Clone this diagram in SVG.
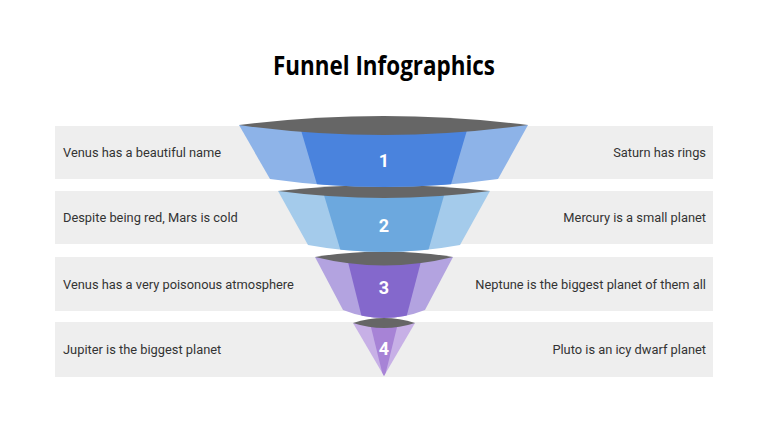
<svg xmlns="http://www.w3.org/2000/svg" width="768" height="432" viewBox="0 0 768 432">
<defs>
<style>
.bar{fill:#eeeeee}
.txt{font-family:Roboto,"Liberation Sans",sans-serif;font-size:12.85px;fill:#333333}
.r{text-anchor:end}
.num{font-family:Roboto,"Liberation Sans",sans-serif;font-size:18px;font-weight:bold;fill:#ffffff;text-anchor:middle}
.lens{fill:#666666}
</style>
<clipPath id="c1"><path d="M239,125 L270,179 Q384,195 498,179 L528,125 Z"/></clipPath>
<clipPath id="c2"><path d="M278,191 L308,245 Q384,259 460,245 L490,191 Z"/></clipPath>
<clipPath id="c3"><path d="M315,257 L343,310 Q384,326 425,310 L453,257 Z"/></clipPath>
<clipPath id="c4"><path d="M353,323 L384,376 L415,323 Z"/></clipPath>
</defs>
<rect width="768" height="432" fill="#ffffff"/>
<text x="384" y="75" text-anchor="middle" font-family="'Open Sans','Liberation Sans',sans-serif" font-weight="bold" font-size="27" textLength="222" lengthAdjust="spacingAndGlyphs" fill="#000000">Funnel Infographics</text>
<g id="row1"><rect class="bar" x="55" y="126" width="658" height="53"/><text class="txt" x="63" y="157">Venus has a beautiful name</text><text class="txt r" x="706" y="157">Saturn has rings</text></g>
<g id="row2"><rect class="bar" x="55" y="191" width="658" height="53"/><text class="txt" x="63" y="222">Despite being red, Mars is cold</text><text class="txt r" x="706" y="222">Mercury is a small planet</text></g>
<g id="row3"><rect class="bar" x="55" y="257" width="658" height="54"/><text class="txt" x="63" y="289">Venus has a very poisonous atmosphere</text><text class="txt r" x="706" y="289">Neptune is the biggest planet of them all</text></g>
<g id="row4"><rect class="bar" x="55" y="322" width="658" height="55"/><text class="txt" x="63" y="354">Jupiter is the biggest planet</text><text class="txt r" x="706" y="354">Pluto is an icy dwarf planet</text></g>
<g id="seg4">
<path d="M353,323 L384,376 L415,323 Z" fill="#c7b0e6"/>
<path d="M368,315 L384,380 L400,315 Z" fill="#a783d6" clip-path="url(#c4)"/>
<path class="lens" d="M353,323 Q384,313 415,323 Q384,333 353,323 Z"/>
<text class="num" x="384" y="355">4</text>
</g>
<g id="seg3">
<path d="M315,257 L343,310 Q384,326 425,310 L453,257 Z" fill="#b3a3e0"/>
<path d="M345,250 L365,330 L403,330 L424,250 Z" fill="#8468cc" clip-path="url(#c3)"/>
<path class="lens" d="M315,257 Q384,246 453,257 Q384,274 315,257 Z"/>
<text class="num" x="384" y="294">3</text>
</g>
<g id="seg2">
<path d="M278,191 L308,245 Q384,259 460,245 L490,191 Z" fill="#a4cbeb"/>
<path d="M321,185 L344,262 L425,262 L447,185 Z" fill="#6ca8de" clip-path="url(#c2)"/>
<path class="lens" d="M278,191 Q384,179 490,191 Q384,205 278,191 Z"/>
<text class="num" x="384" y="232">2</text>
</g>
<g id="seg1">
<path d="M239,125 L270,179 Q384,195 498,179 L528,125 Z" fill="#8db3e8"/>
<path d="M298,120 L321,198 L447,198 L470,120 Z" fill="#4a83dd" clip-path="url(#c1)"/>
<path class="lens" d="M239,125 Q384,107 528,125 Q384,145 239,125 Z"/>
<text class="num" x="384" y="167">1</text>
</g>
</svg>
